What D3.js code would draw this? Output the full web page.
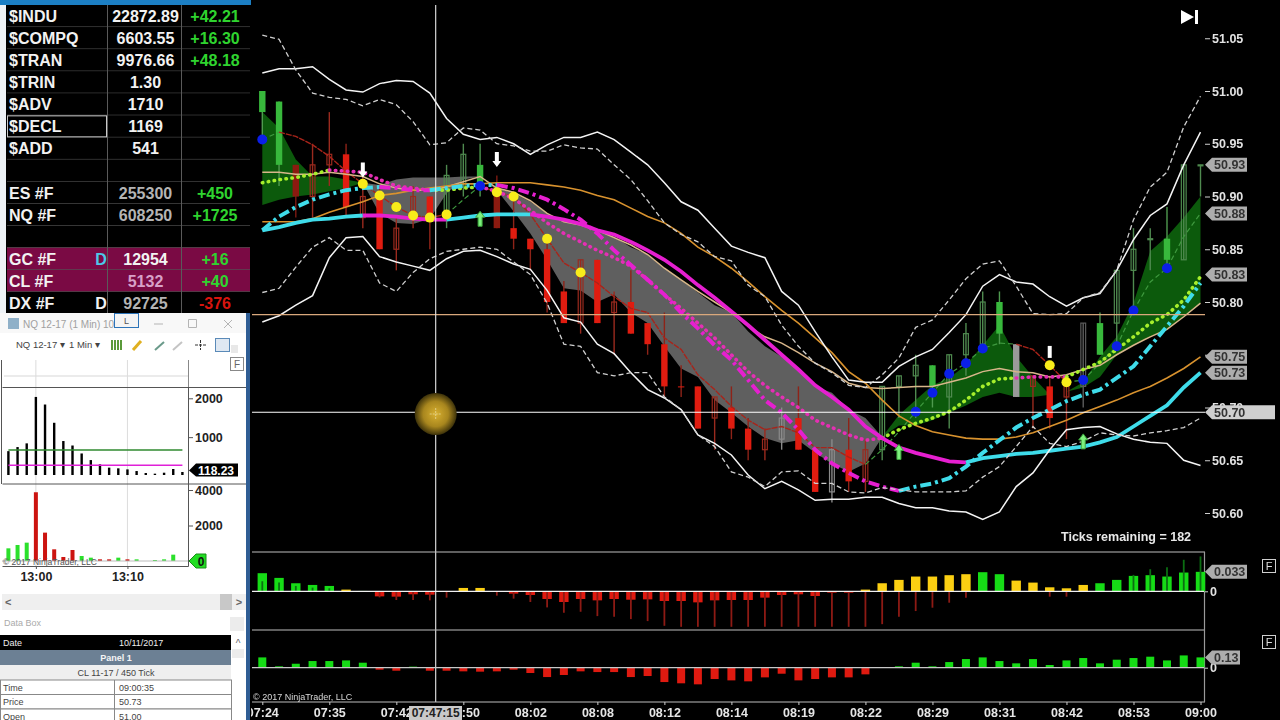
<!DOCTYPE html>
<html>
<head>
<meta charset="utf-8">
<script src="https://cdn.jsdelivr.net/npm/d3@7"></script>
<style>
  html, body { margin: 0; padding: 0; background: #000; overflow: hidden; }
  svg { display: block; font-family: "Liberation Sans", Arial, sans-serif; filter: blur(0.35px); }
</style>
</head>
<body>
<svg id="chart" width="1280" height="720"></svg>
<script>
// ---- main chart: CL 11-17 / 450 tick ----
const timeLabels = ['07:24', '07:35', '07:42', '07:50', '08:02', '08:08', '08:12', '08:14', '08:19', '08:22', '08:29', '08:31', '08:42', '08:53', '09:00'];
const timeTickBars = [0, 4, 8, 12, 16, 20, 24, 28, 32, 36, 40, 44, 48, 52, 56];
const priceTicks = [50.60, 50.65, 50.70, 50.75, 50.80, 50.85, 50.90, 50.95, 51.00, 51.05];

const candleHigh = [51.00,50.99,50.93,50.95,50.98,50.95,50.92,50.91,50.88,50.91,50.90,50.93,50.95,50.95,50.92,50.90,50.86,50.86,50.82,50.84,50.84,50.81,50.83,50.78,50.79,50.74,50.72,50.71,50.72,50.69,50.68,50.70,50.72,50.66,50.67,50.69,50.67,50.72,50.73,50.75,50.74,50.75,50.78,50.81,50.81,50.76,50.73,50.73,50.72,50.78,50.79,50.83,50.87,50.87,50.89,50.93,50.93];
const candleTop = [51.00,50.99,50.93,50.93,50.94,50.94,50.90,50.90,50.87,50.90,50.90,50.92,50.94,50.93,50.91,50.87,50.86,50.85,50.81,50.84,50.84,50.80,50.80,50.78,50.76,50.72,50.72,50.71,50.70,50.68,50.67,50.69,50.69,50.66,50.66,50.66,50.66,50.72,50.73,50.74,50.74,50.75,50.77,50.80,50.80,50.76,50.73,50.72,50.72,50.78,50.78,50.83,50.85,50.86,50.86,50.93,50.93];
const candleBottom = [50.98,50.93,50.90,50.90,50.93,50.89,50.88,50.85,50.85,50.88,50.88,50.88,50.91,50.91,50.87,50.86,50.85,50.80,50.78,50.78,50.78,50.79,50.77,50.76,50.72,50.72,50.68,50.69,50.68,50.66,50.66,50.67,50.66,50.62,50.62,50.63,50.63,50.66,50.72,50.73,50.72,50.71,50.75,50.76,50.77,50.71,50.72,50.69,50.71,50.72,50.75,50.78,50.83,50.86,50.84,50.84,50.93];
const candleLow = [50.95,50.91,50.88,50.88,50.91,50.88,50.87,50.85,50.83,50.87,50.85,50.87,50.90,50.90,50.87,50.85,50.83,50.79,50.78,50.77,50.78,50.75,50.77,50.75,50.71,50.71,50.68,50.66,50.67,50.65,50.65,50.66,50.66,50.62,50.61,50.62,50.62,50.65,50.69,50.69,50.70,50.68,50.73,50.76,50.76,50.71,50.68,50.68,50.67,50.70,50.75,50.76,50.79,50.83,50.83,50.84,50.90];
// R red, D dark red, r hollow red, G green, g hollow green, w hollow gray, W gray, k hollow dim
const candleKind = 'GGDrrRrRrrRggGDRRRRrRrRRRRRrRRrwRRwRrgggGgggGWrRrkGgggGgg'.split('');

const bandUpper = [51.017,51.021,51.021,51.023,51.011,51.001,50.999,51.007,51.010,51.009,50.998,50.974,50.959,50.954,50.956,50.950,50.940,50.949,50.956,50.956,50.961,50.954,50.942,50.930,50.913,50.895,50.887,50.870,50.853,50.847,50.842,50.810,50.797,50.772,50.748,50.726,50.724,50.724,50.739,50.748,50.755,50.771,50.788,50.815,50.826,50.819,50.817,50.805,50.796,50.804,50.808,50.830,50.859,50.882,50.893,50.930,50.961];
const bandUpperDash = [51.053,51.049,51.020,50.998,50.994,50.992,50.986,50.992,50.987,50.971,50.949,50.951,50.965,50.963,50.950,50.948,50.943,50.943,50.949,50.946,50.945,50.930,50.916,50.896,50.875,50.864,50.857,50.843,50.839,50.816,50.805,50.778,50.758,50.742,50.733,50.721,50.719,50.731,50.747,50.776,50.783,50.802,50.822,50.836,50.839,50.815,50.789,50.788,50.789,50.804,50.809,50.830,50.878,50.909,50.923,50.966,50.995];
const bandLower = [50.781,50.787,50.797,50.806,50.842,50.861,50.862,50.843,50.838,50.834,50.830,50.841,50.848,50.849,50.843,50.836,50.831,50.811,50.785,50.781,50.760,50.751,50.733,50.717,50.709,50.698,50.674,50.666,50.655,50.636,50.623,50.630,50.622,50.612,50.613,50.613,50.615,50.615,50.609,50.605,50.605,50.602,50.601,50.594,50.601,50.625,50.638,50.660,50.679,50.681,50.682,50.675,50.670,50.667,50.666,50.650,50.645];
const bandLowerDash = [50.809,50.813,50.833,50.852,50.861,50.849,50.849,50.818,50.810,50.828,50.841,50.848,50.850,50.852,50.850,50.838,50.826,50.799,50.760,50.758,50.733,50.730,50.733,50.733,50.710,50.698,50.674,50.663,50.639,50.634,50.625,50.639,50.640,50.628,50.628,50.620,50.619,50.624,50.622,50.620,50.620,50.620,50.621,50.634,50.644,50.663,50.682,50.666,50.663,50.668,50.676,50.674,50.673,50.676,50.678,50.681,50.690];

const maSlow = [50.868,50.871,50.875,50.878,50.879,50.881,50.882,50.882,50.881,50.879,50.878,50.878,50.880,50.882,50.883,50.883,50.883,50.881,50.878,50.874,50.868,50.864,50.857,50.849,50.840,50.829,50.816,50.804,50.791,50.778,50.764,50.750,50.736,50.721,50.710,50.698,50.682,50.671,50.662,50.657,50.653,50.649,50.648,50.652,50.654,50.656,50.657,50.659,50.661,50.663,50.667,50.672,50.682,50.692,50.702,50.719,50.733];
const maSlowTrend = [[0,6,'up'],[6,11,'down'],[11,16,'up'],[16,42,'down'],[42,56,'up']];
const maMid = [50.868,50.881,50.890,50.897,50.902,50.906,50.908,50.909,50.908,50.906,50.906,50.908,50.910,50.911,50.911,50.908,50.903,50.897,50.888,50.878,50.865,50.849,50.835,50.821,50.807,50.790,50.775,50.759,50.745,50.726,50.707,50.695,50.679,50.660,50.647,50.638,50.630,50.625,50.621,50.625,50.628,50.633,50.644,50.657,50.669,50.681,50.690,50.698,50.706,50.712,50.717,50.728,50.739,50.758,50.777,50.796,50.818];
const maMidTrend = [[0,7,'up'],[7,10,'down'],[10,14,'up'],[14,38,'down'],[38,56,'up']];
const maDotted = [50.913,50.916,50.918,50.921,50.925,50.924,50.923,50.916,50.910,50.908,50.906,50.906,50.908,50.909,50.905,50.898,50.887,50.875,50.865,50.857,50.849,50.842,50.834,50.821,50.807,50.794,50.780,50.766,50.750,50.734,50.721,50.710,50.700,50.688,50.681,50.674,50.669,50.671,50.679,50.685,50.690,50.696,50.707,50.720,50.727,50.728,50.729,50.729,50.729,50.736,50.743,50.755,50.767,50.780,50.788,50.802,50.824];
const maDottedTrend = [[0,4,'bull'],[4,10,'down'],[10,13,'bull'],[13,37,'down'],[37,45,'bull'],[45,48,'down'],[48,56,'bull']];
const maTan = [50.923,50.923,50.921,50.921,50.923,50.921,50.919,50.912,50.908,50.906,50.906,50.909,50.914,50.919,50.908,50.904,50.896,50.884,50.876,50.873,50.868,50.861,50.854,50.845,50.832,50.821,50.810,50.800,50.790,50.777,50.767,50.761,50.752,50.742,50.734,50.723,50.719,50.718,50.719,50.720,50.720,50.724,50.728,50.734,50.737,50.734,50.733,50.729,50.731,50.736,50.740,50.750,50.759,50.767,50.774,50.786,50.799];
const maOrange = [50.876,50.876,50.876,50.879,50.885,50.890,50.895,50.901,50.903,50.906,50.908,50.910,50.912,50.912,50.913,50.913,50.913,50.911,50.909,50.906,50.901,50.897,50.889,50.881,50.875,50.865,50.852,50.843,50.832,50.819,50.805,50.792,50.780,50.766,50.752,50.734,50.723,50.707,50.692,50.683,50.677,50.674,50.671,50.670,50.670,50.672,50.676,50.682,50.688,50.695,50.701,50.707,50.714,50.720,50.728,50.737,50.748];
const maFast = [50.954,50.961,50.957,50.949,50.938,50.924,50.912,50.901,50.890,50.882,50.880,50.883,50.897,50.910,50.904,50.900,50.883,50.860,50.837,50.828,50.818,50.805,50.794,50.790,50.766,50.755,50.731,50.717,50.701,50.688,50.679,50.682,50.676,50.662,50.662,50.653,50.646,50.660,50.677,50.696,50.714,50.732,50.742,50.756,50.761,50.760,50.755,50.740,50.724,50.726,50.742,50.758,50.792,50.819,50.832,50.862,50.884];
const maFastTrend = [[0,1,'bullThin'],[1,11,'bearThin'],[11,13,'bullThin'],[13,36,'bearThin'],[36,45,'bullThin'],[45,48,'bearThin'],[48,56,'bullThin']];

const cloudEdgeA = [50.980,50.965,50.935,50.919,50.919,50.916,50.913,50.911,50.916,50.918,50.918,50.918,50.919,50.919,50.908,50.903,50.895,50.884,50.876,50.873,50.868,50.862,50.852,50.845,50.832,50.821,50.809,50.797,50.790,50.772,50.758,50.748,50.736,50.720,50.714,50.698,50.690,50.672,50.693,50.707,50.721,50.728,50.740,50.759,50.778,50.748,50.729,50.712,50.715,50.724,50.748,50.767,50.799,50.848,50.862,50.880,50.900];
const cloudEdgeB = [50.892,50.897,50.900,50.902,50.905,50.908,50.913,50.884,50.875,50.874,50.879,50.903,50.916,50.919,50.906,50.886,50.865,50.840,50.813,50.811,50.800,50.807,50.790,50.780,50.758,50.737,50.729,50.707,50.695,50.682,50.671,50.666,50.669,50.657,50.647,50.639,50.647,50.672,50.683,50.683,50.688,50.695,50.702,50.710,50.714,50.710,50.710,50.712,50.715,50.719,50.729,50.750,50.759,50.767,50.774,50.786,50.799];
const cloudSpans = [[0,6,'bull'],[6,13,'bear'],[13,37,'bear'],[37,47,'bull'],[48,56,'bull']];

const yellowDotBars = [6,7,8,9,10,11,14,15,17,19,47,48];
const blueDotBars = [0,13,39,40,41,42,43,49,51,52,54];
const downArrows = [{bar:6,price:50.918},{bar:14,price:50.928},{bar:47,price:50.747,plain:true}];
const upArrows = [{bar:13,price:50.886},{bar:38,price:50.665},{bar:49,price:50.675}];

const crosshairBar = 10.35;
const crosshairPrice = 50.6955;
const crosshairTime = '07:47:15';
const levelPrice = 50.788;
const flagPrices = [50.93, 50.884, 50.826, 50.748, 50.733];
const flagLabels = ['50.93', '50.88', '50.83', '50.75', '50.73'];

// ---- lower indicator panels ----
const oscBody = [.0308,.0228,.0137,.0108,.0091,.0029,.0006,-.0086,-.0091,-.0051,-.0057,-.0006,.0057,.0057,-.0011,-.0040,-.0063,-.0131,-.0182,-.0131,-.0154,-.0131,-.0143,-.0137,-.0165,-.0165,-.0188,-.0154,-.0148,-.0148,-.0108,-.0063,-.0051,-.0080,-.0023,-.0023,.0029,.0137,.0194,.0251,.0251,.0274,.0291,.0325,.0291,.0182,.0148,.0068,.0051,.0108,.0137,.0194,.0262,.0274,.0251,.0319,.0331];
const oscWick = [.0171,.0148,.0091,.0063,.0051,0,0,-.0103,-.0148,-.0148,-.0154,-.0108,0,0,-.0074,-.0125,-.0182,-.0274,-.0365,-.0348,-.0422,-.0433,-.0473,-.0507,-.0587,-.0604,-.0604,-.0604,-.0604,-.0604,-.0604,-.0604,-.0604,-.0604,-.0604,-.0604,-.0604,-.0559,-.0433,-.0336,-.0279,-.0194,-.0108,0,0,0,0,-.0091,-.0091,0,0,0,.0279,.0376,.0410,.0536,.0593];
const oscYellowBars = [5,12,13,36,37,38,39,40,41,42,45,46,47,48,49];
const momentum = [.130,.017,.050,.084,.084,.092,.063,-.025,-.038,.013,-.038,-.038,-.046,-.050,-.046,-.025,-.067,-.118,-.092,-.046,-.055,-.055,-.118,-.105,-.181,-.197,-.210,-.143,-.160,-.172,-.122,-.076,-.160,-.143,-.122,-.122,-.084,0,.017,.063,.017,.071,.109,.130,.084,.055,.109,.034,.092,.122,.055,.101,.122,.139,.092,.155,.130];

// ---- quote table ----
const quoteSymbols = ['$INDU','$COMPQ','$TRAN','$TRIN','$ADV','$DECL','$ADD','','ES #F','NQ #F','','GC #F','CL #F','DX #F'];
const quoteLast = ['22872.89','6603.55','9976.66','1.30','1710','1169','541','','255300','608250','','12954','5132','92725'];
const quoteChange = ['+42.21','+16.30','+48.18','','','','','','+450','+1725','','+16','+40','-376'];

// ---- NQ 1 minute mini chart ----
const nqTickMinutes = [3, 13];
const nqTickLabels = ['13:00', '13:10'];
const nqVolume = [640,745,840,2035,1840,1370,900,785,580,410,300,215,197,170,128,77,60,85,180,103];
const nqVolumeAvgFast = 274;
const nqVolumeAvgSlow = 667;
const nqDelta = [714,902,1034,-3873,-1598,-658,-226,-620,282,188,-94,-94,188,-94,94,0,56,94,357,0];

// ---- data box ----
const boxRowLabels = ['Time', 'Price', 'Open'];
const boxRowValues = ['09:00:35', '50.73', '51.00'];

const svg = d3.select('#chart');
const defs = svg.append('defs');
const glow = defs.append('radialGradient').attr('id', 'cursorGlow');
glow.append('stop').attr('offset', '0%').attr('stop-color', '#d8b030');
glow.append('stop').attr('offset', '60%').attr('stop-color', '#a8861e');
glow.append('stop').attr('offset', '100%').attr('stop-color', '#3d320a');

// Scales
const x = d3.scaleLinear().domain([0, 56]).range([262.3, 1200.5]);
const y = d3.scaleLinear().domain([50.60, 51.05]).range([513, 38.25]);
const yOsc = d3.scaleLinear().domain([0, 0.033]).range([591.3, 571.9]);
const yMom = d3.scaleLinear().domain([0, 0.13]).range([667.7, 657.4]);

const priceLine = values => d3.line().x((d, i) => x(i)).y(d => y(d))(values);

// Draw one value array cut in coloured spans
function drawSpans(parent, values, spans, styles) {
    parent.selectAll(null)
        .data(spans)
        .enter()
        .append('path')
        .attr('fill', 'none')
        .attr('stroke', d => styles[d[2]].color)
        .attr('stroke-width', d => styles[d[2]].width)
        .attr('stroke-dasharray', d => styles[d[2]].dash || null)
        .attr('stroke-linecap', d => styles[d[2]].cap || 'butt')
        .attr('d', d => {
            const part = values.slice(d[0], d[1] + 1);
            return d3.line().x((v, i) => x(d[0] + i)).y(v => y(v))(part);
        });
}

const main = svg.append('g');

// Cloud
const cloudColor = { bull: '#0c5a0c', bear: '#5f5f5f' };
main.selectAll('.cloud')
    .data(cloudSpans)
    .enter()
    .append('path')
    .attr('class', 'cloud')
    .attr('fill', d => cloudColor[d[2]])
    .attr('d', d => {
        const bars = d3.range(d[0], d[1] + 1);
        return d3.area().x(i => x(i)).y0(i => y(cloudEdgeB[i])).y1(i => y(cloudEdgeA[i]))(bars);
    });

// Candles
const candleStroke = { R: '#8e2318', D: '#7d1a12', r: '#9a2a1e', G: '#4f9a4f', g: '#4f8a4f', w: '#8a8a8a', W: '#9a9a9a', k: '#5c5c5c' };
const candleFill = { R: '#e01c10', D: '#8c1a10', r: 'none', G: '#38b83c', g: 'none', w: 'none', W: '#9a9a9a', k: 'none' };
const candles = main.selectAll('.candle')
    .data(d3.range(candleKind.length))
    .enter()
    .append('g')
    .attr('class', 'candle');
candles.append('line')
    .attr('x1', i => x(i)).attr('x2', i => x(i))
    .attr('y1', i => y(candleHigh[i])).attr('y2', i => y(candleLow[i]))
    .attr('stroke', i => candleStroke[candleKind[i]])
    .attr('stroke-width', 1.4);
candles.append('rect')
    .attr('x', i => x(i) - (candleFill[candleKind[i]] === 'none' ? 2.4 : 3.2))
    .attr('width', i => candleFill[candleKind[i]] === 'none' ? 4.8 : 6.4)
    .attr('y', i => y(candleTop[i]))
    .attr('height', i => Math.max(y(candleBottom[i]) - y(candleTop[i]), 1))
    .attr('fill', i => candleFill[candleKind[i]])
    .attr('stroke', i => candleFill[candleKind[i]] === 'none' ? candleStroke[candleKind[i]] : 'none')
    .attr('stroke-width', 1.2);

// Thin line through the dots
drawSpans(main, maFast, maFastTrend, {
    bullThin: { color: '#3f9a3f', width: 1.2, dash: '5 3' },
    bearThin: { color: '#a8241a', width: 1.4, dash: '6 1' }
});

// Moving averages
main.append('path').attr('d', priceLine(maTan)).attr('fill', 'none').attr('stroke', '#d8b68a').attr('stroke-width', 1.5);
main.append('path').attr('d', priceLine(maOrange)).attr('fill', 'none').attr('stroke', '#d8922e').attr('stroke-width', 1.6);
drawSpans(main, maDotted, maDottedTrend, {
    bull: { color: '#a6ee2c', width: 3.6, dash: '0.5 5.5', cap: 'round' },
    down: { color: '#e52fb4', width: 3.6, dash: '0.5 5.5', cap: 'round' }
});
drawSpans(main, maMid, maMidTrend, {
    up: { color: '#3fdcea', width: 4, dash: '11 4 3 4' },
    down: { color: '#e61fd0', width: 4, dash: '11 4 3 4' }
});
drawSpans(main, maSlow, maSlowTrend, {
    up: { color: '#3fdcea', width: 3.8 },
    down: { color: '#e61fd0', width: 3.8 }
});

// Bands
main.append('path').attr('d', priceLine(bandUpper)).attr('fill', 'none').attr('stroke', '#f4f4f4').attr('stroke-width', 1.5);
main.append('path').attr('d', priceLine(bandLower)).attr('fill', 'none').attr('stroke', '#f4f4f4').attr('stroke-width', 1.5);
main.append('path').attr('d', priceLine(bandUpperDash)).attr('fill', 'none').attr('stroke', '#d0d0d0').attr('stroke-width', 1.3).attr('stroke-dasharray', '5 3');
main.append('path').attr('d', priceLine(bandLowerDash)).attr('fill', 'none').attr('stroke', '#d0d0d0').attr('stroke-width', 1.3).attr('stroke-dasharray', '5 3');

// Dots
main.selectAll('.dot-y')
    .data(yellowDotBars)
    .enter()
    .append('circle')
    .attr('class', 'dot-y')
    .attr('cx', d => x(d)).attr('cy', d => y(maFast[d])).attr('r', 5)
    .attr('fill', '#f8ec1a');
main.selectAll('.dot-b')
    .data(blueDotBars)
    .enter()
    .append('circle')
    .attr('class', 'dot-b')
    .attr('cx', d => x(d)).attr('cy', d => y(maFast[d])).attr('r', 5)
    .attr('fill', '#0b1fe8');

// Arrows
main.selectAll('.arrow-d')
    .data(downArrows)
    .enter()
    .append('path')
    .attr('class', 'arrow-d')
    .attr('fill', '#fff')
    .attr('transform', d => `translate(${x(d.bar)},${y(d.price)})`)
    .attr('d', d => d.plain ? 'M-2,-12H2V0H-2Z' : 'M-2,-15H2V-6H4.5L0,0L-4.5,-6H-2Z');
main.selectAll('.arrow-u')
    .data(upArrows)
    .enter()
    .append('path')
    .attr('class', 'arrow-u')
    .attr('fill', '#7df07d')
    .attr('stroke', '#3da63d')
    .attr('transform', d => `translate(${x(d.bar)},${y(d.price)})`)
    .attr('d', 'M-2,15H2V6H4.5L0,0L-4.5,6H-2Z');

// Level lines and crosshair
main.append('line').attr('x1', 252).attr('x2', 1205).attr('y1', y(levelPrice)).attr('y2', y(levelPrice)).attr('stroke', '#d9a87c').attr('stroke-width', 1.2);
main.append('line').attr('x1', 252).attr('x2', 1205).attr('y1', y(crosshairPrice)).attr('y2', y(crosshairPrice)).attr('stroke', '#fff').attr('stroke-width', 1.2);
main.append('line').attr('x1', x(crosshairBar)).attr('x2', x(crosshairBar)).attr('y1', 5).attr('y2', 702).attr('stroke', '#e8e8e8').attr('stroke-width', 1.1);

// Cursor highlight
main.append('circle').attr('cx', x(crosshairBar)).attr('cy', 414).attr('r', 21).attr('fill', 'url(#cursorGlow)');
main.append('path').attr('d', `M${x(crosshairBar) - 6},414H${x(crosshairBar) + 6}M${x(crosshairBar)},408V420`).attr('stroke', '#e6d898').attr('stroke-width', 0.8).attr('stroke-dasharray', '2 1');

// Price axis
const priceAxis = d3.axisRight(y).tickValues(priceTicks).tickFormat(d3.format('.2f')).tickSize(5).tickPadding(2);
const priceAxisDraw = svg.append('g').attr('transform', 'translate(1205,0)').call(priceAxis);
priceAxisDraw.select('.domain').remove();
priceAxisDraw.selectAll('line').attr('stroke', '#cfcfcf');
priceAxisDraw.selectAll('text').attr('fill', '#e2e2e2').style('font-size', '12.5px').style('font-weight', 'bold').style('font-family', 'inherit');

// Flags on the price scale
function drawFlag(px, text, width, fill, color) {
    const g = svg.append('g').attr('transform', `translate(1205,${px})`);
    g.append('path').attr('fill', fill).attr('d', `M0,0L7,-7H${width}V7H7Z`);
    g.append('text').attr('x', 9).attr('y', 4.3).attr('fill', color).style('font-size', '12.5px').style('font-weight', 'bold').text(text);
}
flagPrices.forEach((p, i) => drawFlag(y(p), flagLabels[i], 42, '#adadad', '#333'));
drawFlag(y(crosshairPrice), '50.70', 70, '#cfcfcf', '#333');

// Top right play icon and texts
svg.append('path').attr('d', 'M1181,10L1194,17L1181,24Z M1195,10H1198V24H1195Z').attr('fill', '#fff');
svg.append('text').attr('x', 1061).attr('y', 541).attr('fill', '#e8e8e8').style('font-size', '12.5px').style('font-weight', 'bold').text('Ticks remaining = 182');

// Panel frame lines
[552, 630, 702].forEach(py => {
    svg.append('line').attr('x1', 252).attr('x2', 1205).attr('y1', py).attr('y2', py).attr('stroke', '#bdbdbd').attr('stroke-width', 1.2);
});
svg.append('line').attr('x1', 1204.5).attr('x2', 1204.5).attr('y1', 552).attr('y2', 702).attr('stroke', '#9a9a9a').attr('stroke-width', 1.2);

// Oscillator panel
const oscColor = (d, i) => d < 0 ? '#df1a10' : (oscYellowBars.includes(i) ? '#fbcf12' : '#16dc16');
const osc = svg.append('g');
osc.selectAll('.osc-bar')
    .data(oscBody)
    .enter()
    .append('rect')
    .attr('class', 'osc-bar')
    .attr('x', (d, i) => x(i) - 4.7)
    .attr('width', 9.4)
    .attr('y', d => Math.min(yOsc(d), yOsc(0)))
    .attr('height', d => Math.abs(yOsc(d) - yOsc(0)))
    .attr('fill', oscColor);
osc.selectAll('.osc-wick')
    .data(oscWick)
    .enter()
    .append('line')
    .attr('class', 'osc-wick')
    .attr('x1', (d, i) => x(i)).attr('x2', (d, i) => x(i))
    .attr('y1', yOsc(0)).attr('y2', d => yOsc(d))
    .attr('stroke', d => d < 0 ? '#8d1a14' : '#0b6e12')
    .attr('stroke-width', 1.8);
osc.append('line').attr('x1', 252).attr('x2', 1204).attr('y1', yOsc(0)).attr('y2', yOsc(0)).attr('stroke', '#f0f0f0').attr('stroke-width', 1.2);

// Momentum panel
const mom = svg.append('g');
mom.selectAll('.mom-bar')
    .data(momentum)
    .enter()
    .append('rect')
    .attr('class', 'mom-bar')
    .attr('x', (d, i) => x(i) - 4)
    .attr('width', 8)
    .attr('y', d => Math.min(yMom(d), yMom(0)))
    .attr('height', d => Math.abs(yMom(d) - yMom(0)))
    .attr('fill', d => d < 0 ? '#df1a10' : '#16dc16');
mom.append('line').attr('x1', 252).attr('x2', 1204).attr('y1', yMom(0)).attr('y2', yMom(0)).attr('stroke', '#c8c8c8').attr('stroke-width', 1.2);

// Zero ticks of the panels
[yOsc, yMom].forEach(scale => {
    const a = svg.append('g').attr('transform', 'translate(1205,0)')
        .call(d3.axisRight(scale).tickValues([0]).tickFormat(d3.format('d')).tickSize(3).tickPadding(2));
    a.select('.domain').remove();
    a.selectAll('line').attr('stroke', '#cfcfcf');
    a.selectAll('text').attr('fill', '#e2e2e2').style('font-size', '12.5px').style('font-weight', 'bold').style('font-family', 'inherit');
});
drawFlag(yOsc(oscBody[56]), '0.033', 42, '#adadad', '#333');
drawFlag(yMom(momentum[56]), '0.13', 35, '#adadad', '#333');

// F buttons
[566, 642].forEach(py => {
    svg.append('rect').attr('x', 1262.5).attr('y', py - 6.5).attr('width', 13).attr('height', 13).attr('fill', 'none').attr('stroke', '#cfcfcf');
    svg.append('text').attr('x', 1269).attr('y', py + 4).attr('text-anchor', 'middle').attr('fill', '#ddd').style('font-size', '11px').text('F');
});
svg.append('text').attr('x', 253).attr('y', 700).attr('fill', '#d8d8d8').style('font-size', '9px').text('© 2017 NinjaTrader, LLC');

// Time axis
const timeAxis = d3.axisBottom(x).tickValues(timeTickBars).tickFormat((d, i) => timeLabels[i]).tickSize(3).tickPadding(3);
const timeAxisDraw = svg.append('g').attr('transform', 'translate(0,702)').call(timeAxis);
timeAxisDraw.select('.domain').remove();
timeAxisDraw.selectAll('line').attr('stroke', '#cfcfcf');
timeAxisDraw.selectAll('text').attr('fill', '#e6e6e6').style('font-size', '12.5px').style('font-weight', 'bold').style('font-family', 'inherit');
svg.append('rect').attr('x', 409).attr('y', 706).attr('width', 53).attr('height', 14).attr('fill', '#c9c9c9');
svg.append('text').attr('x', x(crosshairBar)).attr('y', 717).attr('text-anchor', 'middle').attr('fill', '#222').style('font-size', '12px').style('font-weight', 'bold').text(crosshairTime);

// ---- left column ----
const left = svg.append('g');
left.append('rect').attr('x', 0).attr('y', 0).attr('width', 251).attr('height', 720).attr('fill', '#000');
left.append('rect').attr('x', 0).attr('y', 0).attr('width', 6).attr('height', 314).attr('fill', '#eef2f6');
left.append('rect').attr('x', 0).attr('y', 0).attr('width', 251).attr('height', 5).attr('fill', '#1c7fc4');

const rowCenter = i => 16 + i * 22.07;
const rows = left.selectAll('.quote-row')
    .data(quoteSymbols)
    .enter()
    .append('g')
    .attr('class', 'quote-row')
    .attr('transform', (d, i) => `translate(0,${rowCenter(i)})`);
rows.append('rect')
    .attr('x', 7).attr('y', -11).attr('width', 243).attr('height', 22)
    .attr('fill', (d, i) => (i === 11 || i === 12) ? '#7a0a44' : '#000');
rows.append('line').attr('x1', 7).attr('x2', 250).attr('y1', 11).attr('y2', 11).attr('stroke', '#5a5a5a');
rows.append('text').attr('x', 9).attr('y', 6).attr('fill', '#f2f2f2').style('font-size', '16px').style('font-weight', 'bold').text(d => d);
rows.append('text')
    .attr('x', 145.5).attr('y', 6).attr('text-anchor', 'middle')
    .attr('fill', (d, i) => (i === 8 || i === 9 || i === 13) ? '#b4b4b4' : (i === 12 ? '#d8a0c8' : '#f2f2f2'))
    .style('font-size', '16px').style('font-weight', 'bold')
    .text((d, i) => quoteLast[i]);
rows.append('text')
    .attr('x', 215).attr('y', 6).attr('text-anchor', 'middle')
    .attr('fill', (d, i) => quoteChange[i][0] === '-' ? '#d8140e' : '#2fd42f')
    .style('font-size', '16px').style('font-weight', 'bold')
    .text((d, i) => quoteChange[i]);
[107.5, 181.5].forEach(cx => {
    left.append('line').attr('x1', cx).attr('x2', cx).attr('y1', 5).attr('y2', 314).attr('stroke', '#5a5a5a');
});
left.append('rect').attr('x', 7.5).attr('y', rowCenter(5) - 10.5).attr('width', 99).attr('height', 21).attr('fill', 'none').attr('stroke', '#c8c8c8');
left.append('text').attr('x', 101).attr('y', rowCenter(11) + 6).attr('text-anchor', 'middle').attr('fill', '#4cc8e8').style('font-size', '16px').style('font-weight', 'bold').text('D');
left.append('text').attr('x', 101).attr('y', rowCenter(13) + 6).attr('text-anchor', 'middle').attr('fill', '#f2f2f2').style('font-size', '16px').style('font-weight', 'bold').text('D');

// NQ window
left.append('rect').attr('x', 0).attr('y', 313).attr('width', 246).attr('height', 407).attr('fill', '#fff');
left.append('rect').attr('x', 246).attr('y', 313).attr('width', 4).attr('height', 407).attr('fill', '#2f5d94');
left.append('rect').attr('x', 0).attr('y', 313).attr('width', 246).attr('height', 20).attr('fill', '#f8f8f8');
left.append('rect').attr('x', 8).attr('y', 318).attr('width', 11).attr('height', 11).attr('fill', '#8fb0c8');
left.append('text').attr('x', 23).attr('y', 328).attr('fill', '#a0a0a0').style('font-size', '10px').text('NQ 12-17 (1 Min)  10/1');
left.append('rect').attr('x', 114.5).attr('y', 313.5).attr('width', 24).attr('height', 14).attr('fill', '#f4f4f4').attr('stroke', '#2d74b8');
left.append('text').attr('x', 126.5).attr('y', 324).attr('text-anchor', 'middle').attr('fill', '#555').style('font-size', '9px').text('L');
left.append('path').attr('d', 'M154,324H163 M188.5,319.5h8v8h-8Z M224,320l8,8M232,320l-8,8').attr('fill', 'none').attr('stroke', '#b4b4b4');
left.append('text').attr('x', 16).attr('y', 348).attr('fill', '#444').style('font-size', '9.5px').text('NQ 12-17 ▾');
left.append('text').attr('x', 69).attr('y', 348).attr('fill', '#444').style('font-size', '9.5px').text('1 Min ▾');
left.append('path').attr('d', 'M112,340v10M115,340v10M118,340v10M121,340v10').attr('stroke', '#5a9a3a').attr('stroke-width', 2);
left.append('path').attr('d', 'M133,350l8,-9').attr('stroke', '#e0b020').attr('stroke-width', 3);
left.append('path').attr('d', 'M155,350l9,-8').attr('stroke', '#6a9a8a').attr('stroke-width', 2);
left.append('path').attr('d', 'M173,350l9,-8').attr('stroke', '#c4c4c4').attr('stroke-width', 2);
left.append('path').attr('d', 'M195,345h11M200.5,340v10').attr('stroke', '#333').attr('stroke-dasharray', '3 1');
left.append('rect').attr('x', 215.5).attr('y', 338.5).attr('width', 14).attr('height', 13).attr('fill', '#dfe8f2').attr('stroke', '#5a8ab8');
left.append('rect').attr('x', 231).attr('y', 345).attr('width', 7).attr('height', 8).attr('fill', '#e8e8e8');

// Mini chart scales
const xNq = d3.scaleLinear().domain([0, 19]).range([8.4, 182.4]);
const yVol = d3.scaleLinear().domain([0, 2000]).range([476, 398.3]);
const yDelta = d3.scaleLinear().domain([0, 4000]).range([561, 490]);

left.append('line').attr('x1', 4).attr('x2', 188).attr('y1', 376).attr('y2', 376).attr('stroke', '#e4e4e4').attr('stroke-width', 1.5);
left.append('line').attr('x1', 188.5).attr('x2', 188.5).attr('y1', 360).attr('y2', 387).attr('stroke', '#888');
left.append('rect').attr('x', 230.5).attr('y', 357.5).attr('width', 13).attr('height', 13).attr('fill', '#fff').attr('stroke', '#888');
left.append('text').attr('x', 237).attr('y', 368).attr('text-anchor', 'middle').attr('fill', '#666').style('font-size', '10px').text('F');

// Grid lines of the mini chart
left.selectAll('.nq-grid')
    .data(nqTickMinutes)
    .enter()
    .append('line')
    .attr('class', 'nq-grid')
    .attr('x1', d => xNq(d)).attr('x2', d => xNq(d))
    .attr('y1', 360).attr('y2', 566)
    .attr('stroke', '#dcdcdc');

left.selectAll('.vol-bar')
    .data(nqVolume)
    .enter()
    .append('rect')
    .attr('class', 'vol-bar')
    .attr('x', (d, i) => xNq(i) - 1.2)
    .attr('width', 2.4)
    .attr('y', d => yVol(d))
    .attr('height', d => yVol(0) - yVol(d) - 1)
    .attr('fill', '#000');
left.append('line').attr('x1', xNq(0)).attr('x2', xNq(19)).attr('y1', yVol(nqVolumeAvgSlow)).attr('y2', yVol(nqVolumeAvgSlow)).attr('stroke', '#2f8a2f').attr('stroke-width', 1.5);
left.append('line').attr('x1', xNq(0)).attr('x2', xNq(19)).attr('y1', yVol(nqVolumeAvgFast)).attr('y2', yVol(nqVolumeAvgFast)).attr('stroke', '#e020d8').attr('stroke-width', 1.5);

left.selectAll('.delta-bar')
    .data(nqDelta)
    .enter()
    .append('rect')
    .attr('class', 'delta-bar')
    .attr('x', (d, i) => xNq(i) - 2)
    .attr('width', 4)
    .attr('y', d => yDelta(Math.abs(d)))
    .attr('height', d => yDelta(0) - yDelta(Math.abs(d)))
    .attr('fill', d => d < 0 ? '#cc1410' : '#2be02b');
left.append('line').attr('x1', 2).attr('x2', 188).attr('y1', yDelta(0)).attr('y2', yDelta(0)).attr('stroke', '#bbb');
left.append('text').attr('x', 3).attr('y', 565).attr('fill', '#555').style('font-size', '8.5px').text('© 2017 NinjaTrader, LLC');

// Mini chart frames and axes
left.append('path').attr('d', 'M2.5,387.5H246M2.5,484H246M2.5,566.5H188.5V387.5').attr('fill', 'none').attr('stroke', '#555').attr('stroke-width', 1);
left.append('line').attr('x1', 1.5).attr('x2', 1.5).attr('y1', 360).attr('y2', 484).attr('stroke', '#555');
const volAxisDraw = left.append('g').attr('transform', 'translate(189,0)')
    .call(d3.axisRight(yVol).tickValues([1000, 2000]).tickFormat(d3.format('d')).tickSize(4).tickPadding(2));
const deltaAxisDraw = left.append('g').attr('transform', 'translate(189,0)')
    .call(d3.axisRight(yDelta).tickValues([2000, 4000]).tickFormat(d3.format('d')).tickSize(4).tickPadding(2));
const nqTimeDraw = left.append('g').attr('transform', 'translate(0,566)')
    .call(d3.axisBottom(xNq).tickValues(nqTickMinutes).tickFormat((d, i) => nqTickLabels[i]).tickSize(3).tickPadding(3));
[volAxisDraw, deltaAxisDraw, nqTimeDraw].forEach(a => {
    a.select('.domain').remove();
    a.selectAll('line').attr('stroke', '#555');
    a.selectAll('text').attr('fill', '#222').style('font-size', '12.5px').style('font-weight', 'bold').style('font-family', 'inherit');
});

// Mini chart value tags
const tag1 = left.append('g').attr('transform', 'translate(189,470.5)');
tag1.append('path').attr('d', 'M0,0L7,-7H49V6H7L7,6Z').attr('fill', '#000');
tag1.append('text').attr('x', 9).attr('y', 4.5).attr('fill', '#fff').style('font-size', '12px').style('font-weight', 'bold').text('118.23');
const tag2 = left.append('g').attr('transform', 'translate(189,561)');
tag2.append('path').attr('d', 'M0,0L7,-7H17V7H7Z').attr('fill', '#22dd22').attr('stroke', '#178f17');
tag2.append('text').attr('x', 12).attr('y', 4.5).attr('text-anchor', 'middle').attr('fill', '#111').style('font-size', '12px').style('font-weight', 'bold').text('0');

// Scroll bar
left.append('rect').attr('x', 2).attr('y', 594).attr('width', 244).attr('height', 16).attr('fill', '#efefef');
left.append('rect').attr('x', 220).attr('y', 594).attr('width', 12).attr('height', 16).attr('fill', '#c8c8c8');
left.append('text').attr('x', 5).attr('y', 606).attr('fill', '#666').style('font-size', '11px').style('font-weight', 'bold').text('<');
left.append('text').attr('x', 239).attr('y', 606).attr('text-anchor', 'middle').attr('fill', '#666').style('font-size', '11px').style('font-weight', 'bold').text('>');

// Data box
left.append('text').attr('x', 4).attr('y', 626).attr('fill', '#aaa').style('font-size', '9px').text('Data Box');
left.append('rect').attr('x', 230).attr('y', 617).attr('width', 14).attr('height', 14).attr('fill', '#ececec');
left.append('rect').attr('x', 0).attr('y', 635).attr('width', 231).attr('height', 15).attr('fill', '#000');
left.append('text').attr('x', 3).attr('y', 646).attr('fill', '#eee').style('font-size', '9px').text('Date');
left.append('text').attr('x', 119).attr('y', 646).attr('fill', '#eee').style('font-size', '9px').text('10/11/2017');
left.append('rect').attr('x', 0).attr('y', 650).attr('width', 231).attr('height', 15).attr('fill', '#6c8094');
left.append('text').attr('x', 116).attr('y', 661).attr('text-anchor', 'middle').attr('fill', '#f4f4f4').style('font-size', '9px').style('font-weight', 'bold').text('Panel 1');
left.append('rect').attr('x', 0).attr('y', 665).attr('width', 231).attr('height', 15).attr('fill', '#efefef');
left.append('text').attr('x', 116).attr('y', 676).attr('text-anchor', 'middle').attr('fill', '#444').style('font-size', '9px').text('CL 11-17 / 450 Tick');
boxRowLabels.forEach((label, i) => {
    const ry = 680 + i * 14.5;
    left.append('rect').attr('x', 0.5).attr('y', ry).attr('width', 231).attr('height', 14.5).attr('fill', '#fff').attr('stroke', '#888');
    left.append('line').attr('x1', 114.5).attr('x2', 114.5).attr('y1', ry).attr('y2', ry + 14.5).attr('stroke', '#888');
    left.append('text').attr('x', 3).attr('y', ry + 10.5).attr('fill', '#444').style('font-size', '9px').text(label);
    left.append('text').attr('x', 119).attr('y', ry + 10.5).attr('fill', '#444').style('font-size', '9px').text(boxRowValues[i]);
});
left.append('text').attr('x', 238).attr('y', 647).attr('text-anchor', 'middle').attr('fill', '#666').style('font-size', '10px').text('^');
left.append('rect').attr('x', 232).attr('y', 649).attr('width', 12).attr('height', 9).attr('fill', '#ececec');
</script>
</body>
</html>
